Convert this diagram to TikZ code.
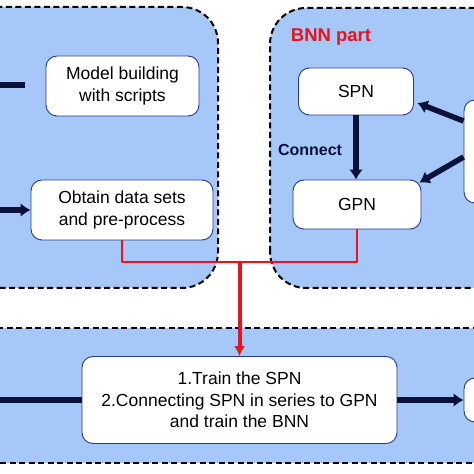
\documentclass[tikz,border=0pt]{standalone}
\usepackage{fontspec}
\setmainfont{Liberation Sans}
\usetikzlibrary{arrows.meta}
\definecolor{panelblue}{RGB}{166,200,248}
\definecolor{boxblue}{RGB}{40,58,140}
\definecolor{arrowblue}{RGB}{10,18,60}
\definecolor{linkred}{RGB}{230,20,30}
\tikzset{
  panel/.style={draw=black,fill=panelblue,line width=2bp,dash pattern=on 6bp off 3.5bp,rounded corners=36bp},
  stepbox/.style={draw=boxblue,fill=white,line width=0.9bp,rounded corners=11bp,align=center,inner sep=0pt},
  flow/.style={arrowblue,line width=5.5bp,-{Latex[length=10bp,width=14bp]}},
  flowplain/.style={arrowblue,line width=5.5bp},
  redlink/.style={linkred,line width=2bp},
  redflow/.style={linkred,line width=4bp,-{Latex[length=10bp,width=11bp]}},
}
\begin{document}
\begin{tikzpicture}[>=latex,line join=bevel,font=\fontsize{17.5bp}{21.5bp}\selectfont]
\useasboundingbox (0bp,0bp) rectangle (474bp,474bp);
\clip (0bp,0bp) rectangle (474bp,474bp);
%%
\draw [panel] (-40bp,186bp) rectangle (218bp,467bp);
\draw [panel] (270bp,186bp) rectangle (540bp,466bp);
\draw [panel,rounded corners=0bp] (-10bp,11bp) rectangle (490bp,146bp);
%
\node (node_model) at (122.5bp,388bp) [stepbox,minimum width=153bp,minimum height=60bp] {Model building\\with scripts};
  \node (node_data) at (122bp,264bp) [stepbox,minimum width=182bp,minimum height=60bp] {Obtain data sets\\and pre-process};
  \node (node_spn) at (356bp,382.5bp) [stepbox,minimum width=115bp,minimum height=47bp] {SPN};
  \node (node_gpn) at (357bp,269.5bp) [stepbox,minimum width=128bp,minimum height=49bp] {GPN};
  \node (node_train) at (239.5bp,74bp) [stepbox,minimum width=315bp,minimum height=87bp] {1.Train the SPN\\2.Connecting SPN in series to GPN\\and train the BNN};
  \node (node_source) at (504bp,322.5bp) [stepbox,minimum width=80bp,minimum height=103bp] {};
  \node (node_result) at (504bp,74bp) [stepbox,minimum width=80bp,minimum height=44bp] {};
  \node (node_bnnpart) at (331bp,437bp) [text=linkred,font=\fontsize{18.5bp}{22bp}\selectfont\bfseries] {BNN part};
  \node (node_connect) at (310bp,324bp) [text=arrowblue,font=\fontsize{16bp}{20bp}\selectfont\bfseries] {Connect};
%
\coordinate (in_model) at (0bp,389bp);
  \coordinate (end_model) at (25bp,389bp);
  \coordinate (in_data) at (0bp,264bp);
  \coordinate (in_train) at (0bp,74bp);
  \coordinate (join) at (239.5bp,212bp);
%
\draw [flowplain] (in_model) -- (end_model);
  \draw [flow] (in_data) -- (node_data.west);
  \draw [flowplain] (in_train) -- (node_train.west);
  \draw [flow] (node_train.east) -- (node_result.west);
  \draw [flow] (node_spn.south) -- (node_gpn.north -| node_spn.south);
  \draw [flow] ([yshift=30.5bp]node_source.west) -- ([xshift=3.5bp,yshift=-11.5bp]node_spn.east);
  \draw [flow] ([yshift=-5.5bp]node_source.west) -- ([xshift=-2bp,yshift=-3bp]node_gpn.north east);
%
\draw [redlink] (node_data.south) |- (join);
  \draw [redlink] (node_gpn.south) |- (join);
  \draw [redflow] (join) -- (node_train.north);
%
\end{tikzpicture}
\end{document}
